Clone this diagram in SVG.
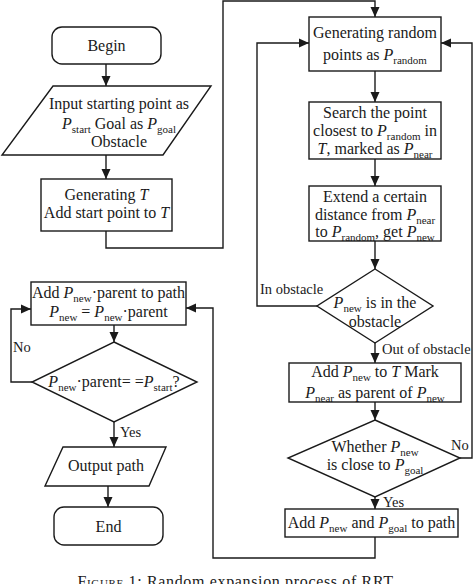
<svg xmlns="http://www.w3.org/2000/svg" width="474" height="584" viewBox="0 0 474 584">
<defs>
<marker id="arr" markerUnits="userSpaceOnUse" markerWidth="10" markerHeight="10" viewBox="0 0 10 10" refX="10" refY="5" orient="auto">
<path d="M0,0.5 L10,5 L0,9.5 Z" fill="#1a1a1a"/>
</marker>
<style>
.sh{fill:#fff;stroke:#1a1a1a;stroke-width:1.4}
.t{font-family:"Liberation Serif","Times New Roman",serif;font-size:16px;fill:#1a1a1a;text-anchor:middle}
.l{font-family:"Liberation Serif","Times New Roman",serif;font-size:14.5px;fill:#1a1a1a}
.i{font-style:italic}
.s{font-size:11px}
.c{fill:none;stroke:#1a1a1a;stroke-width:1.4}
.a{marker-end:url(#arr)}
</style>
</defs>
<rect width="474" height="584" fill="#fff"/>

<g id="connectors">
<path class="c a" d="M106,64 V86"/>
<path class="c a" d="M106,155 V179"/>
<path class="c a" d="M106,231 V248 H223 V1 H375 V17"/>
<path class="c a" d="M375,71 V102"/>
<path class="c a" d="M375,159 V186"/>
<path class="c a" d="M375,241 V269"/>
<path class="c a" d="M317,306 H257 V43 H309"/>
<path class="c a" d="M375,343 V363"/>
<path class="c a" d="M375,402 V420"/>
<path class="c a" d="M460,458 H472 V43 H441"/>
<path class="c a" d="M375,497 V509"/>
<path class="c a" d="M375,537 V558 H213 V308 H186"/>
<path class="c a" d="M114,325 V342"/>
<path class="c a" d="M32,382 H11 V309 H31"/>
<path class="c a" d="M114,422 V447"/>
<path class="c a" d="M108,486 V507"/>
<text class="l" x="260" y="294">In obstacle</text>
<text class="l" x="382" y="354">Out of obstacle</text>
<text class="l" x="451" y="450">No</text>
<text class="l" x="383" y="507">Yes</text>
<text class="l" x="13" y="352">No</text>
<text class="l" x="120" y="437">Yes</text>
</g>

<g id="begin">
<rect class="sh" x="52" y="27" width="109" height="37" rx="10"/>
<text class="t" x="106.5" y="51">Begin</text>
</g>

<g id="input">
<polygon class="sh" points="53,86 211,86 163,155 2,155"/>
<text class="t" x="119" y="109">Input starting point as</text>
<text class="t" x="119" y="129"><tspan class="i">P</tspan><tspan class="s" dy="3.5">start</tspan><tspan dy="-3.5"> Goal as </tspan><tspan class="i">P</tspan><tspan class="s" dy="3.5">goal</tspan></text>
<text class="t" x="119" y="147">Obstacle</text>
</g>

<g id="genT">
<rect class="sh" x="41" y="179" width="131" height="52"/>
<text class="t" x="106.5" y="200">Generating <tspan class="i">T</tspan></text>
<text class="t" x="106.5" y="218">Add start point to <tspan class="i">T</tspan></text>
</g>

<g id="genRandom">
<rect class="sh" x="309" y="17" width="132" height="54"/>
<text class="t" x="375" y="38">Generating random</text>
<text class="t" x="375" y="60">points as <tspan class="i">P</tspan><tspan class="s" dy="3.5">random</tspan></text>
</g>

<g id="search">
<rect class="sh" x="309" y="102" width="132" height="57"/>
<text class="t" x="375" y="118">Search the point</text>
<text class="t" x="375" y="136">closest to <tspan class="i">P</tspan><tspan class="s" dy="3.5">random</tspan><tspan dy="-3.5"> in</tspan></text>
<text class="t" x="375" y="154"><tspan class="i">T</tspan>, marked as <tspan class="i">P</tspan><tspan class="s" dy="3.5">near</tspan></text>
</g>

<g id="extend">
<rect class="sh" x="309" y="186" width="132" height="55"/>
<text class="t" x="375" y="202">Extend a certain</text>
<text class="t" x="375" y="220">distance from <tspan class="i">P</tspan><tspan class="s" dy="3.5">near</tspan></text>
<text class="t" x="375" y="237">to <tspan class="i">P</tspan><tspan class="s" dy="3.5">random</tspan><tspan dy="-3.5">, get </tspan><tspan class="i">P</tspan><tspan class="s" dy="3.5">new</tspan></text>
</g>

<g id="inObstacle">
<polygon class="sh" points="375,269 433,306 375,343 317,306"/>
<text class="t" x="375" y="308"><tspan class="i">P</tspan><tspan class="s" dy="3.5">new</tspan><tspan dy="-3.5"> is in the</tspan></text>
<text class="t" x="375" y="327">obstacle</text>
</g>

<g id="addNew">
<rect class="sh" x="289" y="363" width="172" height="39"/>
<text class="t" x="375" y="377">Add <tspan class="i">P</tspan><tspan class="s" dy="3.5">new</tspan><tspan dy="-3.5"> to </tspan><tspan class="i">T</tspan> Mark</text>
<text class="t" x="375" y="398"><tspan class="i">P</tspan><tspan class="s" dy="3.5">near</tspan><tspan dy="-3.5"> as parent of </tspan><tspan class="i">P</tspan><tspan class="s" dy="3.5">new</tspan></text>
</g>

<g id="closeGoal">
<polygon class="sh" points="375,420 460,458 375,497 288,458"/>
<text class="t" x="375" y="452">Whether <tspan class="i">P</tspan><tspan class="s" dy="3.5">new</tspan></text>
<text class="t" x="375" y="470">is close to <tspan class="i">P</tspan><tspan class="s" dy="3.5">goal</tspan></text>
</g>

<g id="addPath">
<rect class="sh" x="285" y="509" width="173" height="28"/>
<text class="t" x="371.5" y="528">Add <tspan class="i">P</tspan><tspan class="s" dy="3.5">new</tspan><tspan dy="-3.5"> and </tspan><tspan class="i">P</tspan><tspan class="s" dy="3.5">goal</tspan><tspan dy="-3.5"> to path</tspan></text>
</g>

<g id="addParent">
<rect class="sh" x="31" y="282" width="155" height="43"/>
<text class="t" x="108.5" y="298">Add <tspan class="i">P</tspan><tspan class="s" dy="3.5">new</tspan><tspan dy="-3.5">·parent to path</tspan></text>
<text class="t" x="108.5" y="317"><tspan class="i">P</tspan><tspan class="s" dy="3.5">new</tspan><tspan dy="-3.5"> = </tspan><tspan class="i">P</tspan><tspan class="s" dy="3.5">new</tspan><tspan dy="-3.5">·parent</tspan></text>
</g>

<g id="isStart">
<polygon class="sh" points="114,342 197,382 114,422 32,382"/>
<text class="t" x="114" y="387"><tspan class="i">P</tspan><tspan class="s" dy="3.5">new</tspan><tspan dy="-3.5">·parent= =</tspan><tspan class="i">P</tspan><tspan class="s" dy="3.5">start</tspan><tspan dy="-3.5">?</tspan></text>
</g>

<g id="output">
<polygon class="sh" points="63,447 166,447 149,486 45,486"/>
<text class="t" x="106" y="471">Output path</text>
</g>

<g id="end">
<rect class="sh" x="54" y="507" width="109" height="38" rx="10"/>
<text class="t" x="108.5" y="532">End</text>
</g>

<text x="237" y="587" font-family="Liberation Serif, serif" font-size="16" fill="#1a1a1a" text-anchor="middle" textLength="319"><tspan font-variant="small-caps">Figure</tspan> 1: Random expansion process of RRT.</text>
</svg>
